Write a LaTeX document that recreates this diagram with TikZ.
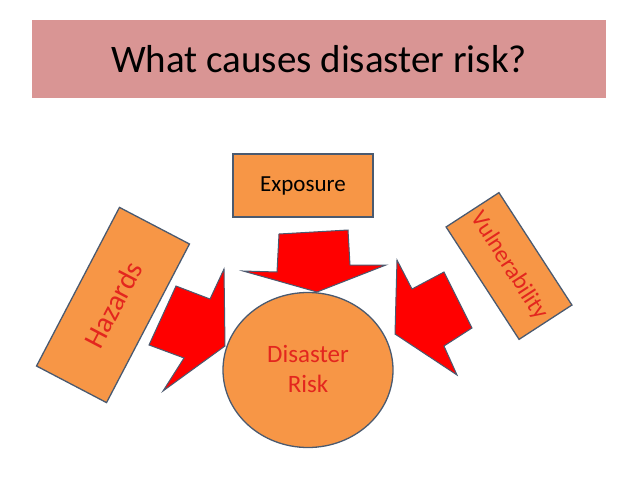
\documentclass[tikz,border=0pt]{standalone}
\usepackage{fontspec}
\setmainfont{Carlito}
\usetikzlibrary{shapes.geometric}
\definecolor{org}{HTML}{F79646}
\definecolor{edge}{HTML}{4A5A70}
\definecolor{txtred}{HTML}{E3261E}
\definecolor{banner}{HTML}{D99594}
\begin{document}
\begin{tikzpicture}[x=1pt,y=-1pt,
  box/.style={draw=edge,line width=1.3pt,fill=org,inner sep=0pt},
  arr/.style={draw=edge,line width=1pt,fill=red,line join=miter}]
\useasboundingbox (0,0) rectangle (638,479);
\node[fill=banner,minimum width=574pt,minimum height=78pt,inner sep=0pt] (title) at (319,59) {\fontsize{39}{46}\selectfont What causes disaster risk?};
\node[box,minimum width=140pt,minimum height=63pt] (exp) at (303,185.5) {\fontsize{23}{27}\selectfont Exposure};
\node[box,minimum width=179pt,minimum height=79pt,rotate=62.4] (haz) at (113,305) {\color{txtred}\fontsize{29}{34}\selectfont Hazards};
\node[box,minimum width=134pt,minimum height=63pt,rotate=-57] (vul) at (509,266) {\color{txtred}\fontsize{24}{28}\selectfont Vulnerability};
\node[box,ellipse,minimum width=170pt,minimum height=155pt] (risk) at (308,370) {};
\node[align=center,text=txtred,font=\fontsize{25}{30}\selectfont] (risktxt) at (308,369) {Disaster\\Risk};
\draw[arr] (279,234) -- (348,230) -- (350,265) -- (386,265) -- (317,292) -- (243,271) -- (277,272) -- cycle;
\draw[arr] (176,286) -- (210,299) -- (224,269) -- (225,346) -- (163,391) -- (184,358) -- (149,345) -- cycle;
\draw[arr] (397,260) -- (412,289) -- (444,272) -- (472,328) -- (444,346) -- (457,375) -- (395,334) -- cycle;
\end{tikzpicture}
\end{document}
